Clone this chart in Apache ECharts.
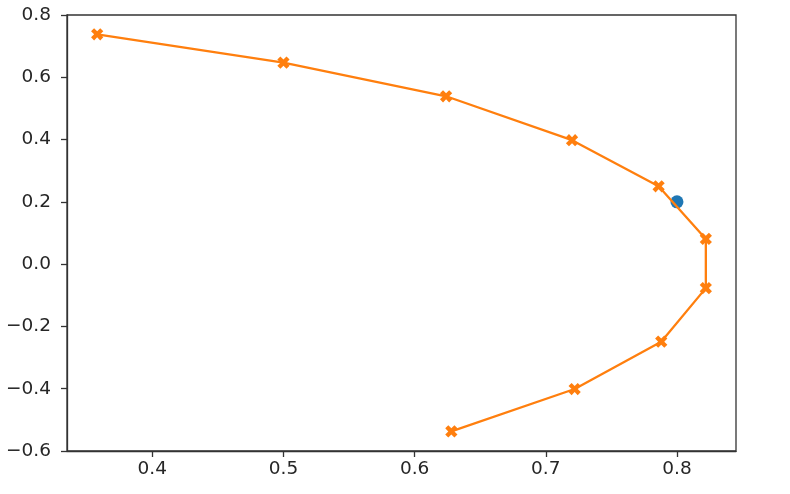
<!DOCTYPE html>
<html>
<head>
<meta charset="utf-8">
<script src="https://cdn.jsdelivr.net/npm/echarts@6/dist/echarts.min.js"></script>
<style>
  html, body { margin: 0; padding: 0; background: #fff; }
  #main { width: 790px; height: 494px; }
</style>
</head>
<body>
<div id="main"></div>
<script>
// curve points (orange, X markers)
const curveX = [0.358, 0.500, 0.624, 0.720, 0.786, 0.822, 0.822, 0.788, 0.722, 0.628];
const curveY = [0.738, 0.647, 0.539, 0.398, 0.250, 0.081, -0.077, -0.249, -0.401, -0.537];
// single point (blue)
const pointX = [0.800];
const pointY = [0.200];
// tick labels
const xTicks = [0.4, 0.5, 0.6, 0.7, 0.8];

const orange = '#ff7f0e';
const blue = '#1f77b4';
const axisColor = '#333';
const font = 'DejaVu Sans';

// filled "X" marker: a plus shape turned 45 degrees
const xMarker = 'path://M1,0H2V1H3V2H2V3H1V2H0V1H1Z';

function fmt(v) {
  return v.toFixed(1).replace('-', '\u2212');
}

var chart = echarts.init(document.getElementById('main'));

option = {
  animation: false,
  backgroundColor: '#fff',
  grid: {
    left: 67,
    right: 54,
    top: 15,
    bottom: 43,
    show: true,
    borderColor: axisColor,
    borderWidth: 1.3
  },
  xAxis: {
    type: 'value',
    min: 0.335,
    max: 0.845,
    splitLine: { show: false },
    axisLine: { show: true, onZero: false, lineStyle: { color: axisColor, width: 1.3 } },
    axisTick: {
      show: true,
      length: 6,
      customValues: xTicks,
      lineStyle: { color: axisColor, width: 1.3 }
    },
    axisLabel: {
      customValues: xTicks,
      formatter: fmt,
      margin: 9,
      fontFamily: font,
      fontSize: 18.5,
      color: '#262626'
    }
  },
  yAxis: {
    type: 'value',
    min: -0.6,
    max: 0.8,
    interval: 0.2,
    splitLine: { show: false },
    axisLine: { show: true, onZero: false, lineStyle: { color: axisColor, width: 1.3 } },
    axisTick: { show: true, length: 6, lineStyle: { color: axisColor, width: 1.3 } },
    axisLabel: {
      formatter: fmt,
      margin: 16,
      fontFamily: font,
      fontSize: 18.5,
      color: '#262626'
    }
  },
  series: [
    {
      name: 'point',
      type: 'scatter',
      data: pointX.map((x, i) => [x, pointY[i]]),
      symbol: 'circle',
      symbolSize: 13,
      itemStyle: { color: blue, opacity: 1 }
    },
    {
      name: 'curve',
      type: 'line',
      data: curveX.map((x, i) => [x, curveY[i]]),
      symbol: xMarker,
      symbolSize: 13,
      symbolRotate: 45,
      showAllSymbol: true,
      lineStyle: { color: orange, width: 2.3 },
      itemStyle: { color: orange, borderWidth: 0 }
    }
  ]
};

chart.setOption(option);
</script>
</body>
</html>
